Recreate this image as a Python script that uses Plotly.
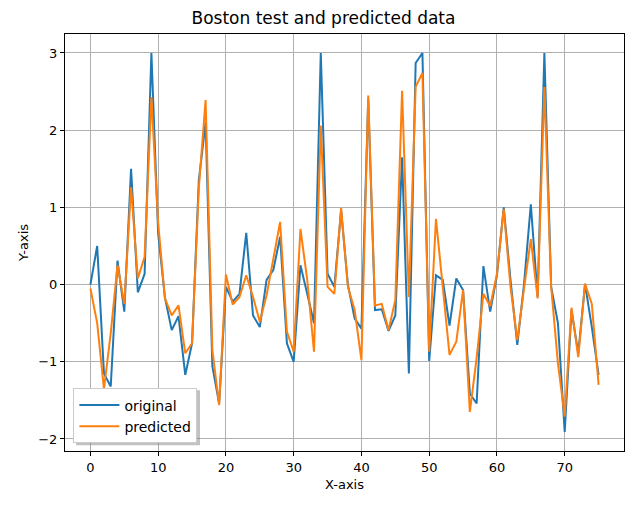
import plotly.graph_objects as go

x_idx = list(range(76))

original = [0.0, 0.5, -1.15, -1.32, 0.31, -0.35, 1.5, -0.1, 0.14, 3.0,
            0.66, -0.17, -0.59, -0.41, -1.17, -0.76, 1.35, 2.1, -1.06, -1.54,
            -0.03, -0.22, -0.12, 0.67, -0.4, -0.55, 0.06, 0.19, 0.62, -0.76,
            -1.0, 0.25, -0.12, -0.5, 3.0, 0.14, -0.03, 0.96, 0.0, -0.44,
            -0.57, 2.4, -0.33, -0.32, -0.6, -0.4, 1.65, -1.15, 2.87, 3.0,
            -0.99, 0.12, 0.06, -0.53, 0.08, -0.07, -1.41, -1.54, 0.24, -0.35,
            0.12, 1.0, 0.06, -0.78, 0.01, 1.04, -0.16, 3.0, -0.03, -0.5,
            -1.91, -0.33, -0.89, 0.01, -0.55, -1.17]

predicted = [-0.05, -0.5, -1.35, -0.63, 0.25, -0.25, 1.26, 0.08, 0.36, 2.43,
             0.8, -0.18, -0.4, -0.27, -0.89, -0.76, 1.25, 2.39, -0.85, -1.56,
             0.13, -0.26, -0.16, 0.12, -0.16, -0.48, -0.14, 0.36, 0.81, -0.61,
             -0.87, 0.72, 0.06, -0.87, 2.06, -0.03, -0.12, 0.99, -0.03, -0.33,
             -0.98, 2.45, -0.27, -0.25, -0.59, -0.2, 2.51, -0.16, 2.56, 2.74,
             -0.87, 0.85, 0.01, -0.91, -0.74, -0.07, -1.65, -0.95, -0.12, -0.28,
             0.14, 0.98, -0.03, -0.72, -0.05, 0.59, -0.18, 2.56, -0.03, -1.02,
             -1.71, -0.3, -0.94, 0.01, -0.25, -1.3]

x_ticks = [0, 10, 20, 30, 40, 50, 60, 70]
y_ticks = [-2, -1, 0, 1, 2, 3]

# matplotlib-like 5% margins
lo = min(original + predicted)
hi = max(original + predicted)
pad = (hi - lo) * 0.05
xpad = (x_idx[-1] - x_idx[0]) * 0.05

fig = go.Figure()
fig.add_trace(go.Scatter(x=x_idx, y=original, mode="lines", name="original",
                         line=dict(color="#1f77b4", width=2)))
fig.add_trace(go.Scatter(x=x_idx, y=predicted, mode="lines", name="predicted",
                         line=dict(color="#ff7f0e", width=2)))

axis_style = dict(showline=True, linecolor="black", linewidth=1, mirror=True,
                  ticks="outside", ticklen=4, tickcolor="black",
                  showgrid=True, gridcolor="#b0b0b0", gridwidth=1,
                  zeroline=False, tickfont=dict(size=13, color="black"))

fig.update_xaxes(range=[x_idx[0] - xpad, x_idx[-1] + xpad], tickvals=x_ticks,
                 title=dict(text="X-axis", font=dict(size=13), standoff=6), **axis_style)
fig.update_yaxes(range=[lo - pad, hi + pad], tickvals=y_ticks,
                 title=dict(text="Y-axis", font=dict(size=13), standoff=6), **axis_style)

# legend shadow (matplotlib shadow=True)
fig.add_shape(type="rect", xref="paper", yref="paper", layer="above",
              x0=0.0197, x1=0.2415, y0=0.0137, y1=0.1456,
              fillcolor="rgba(120,120,120,0.45)", line=dict(width=0))

# page body adds an 8px offset, so the figure is shrunk to fit the window
fig.update_layout(
    width=631, height=498,
    margin=dict(l=57, r=15, t=26, b=55),
    paper_bgcolor="white", plot_bgcolor="white",
    font=dict(family="DejaVu Sans", color="black"),
    title=dict(text="Boston test and predicted data", x=0.5, xanchor="center",
               y=0.98, yanchor="middle", font=dict(size=17)),
    legend=dict(x=0.015, y=0.018, xanchor="left", yanchor="bottom",
                bgcolor="white", bordercolor="#cccccc",
                borderwidth=1, font=dict(size=14), itemwidth=40,
                tracegroupgap=0),
    showlegend=True,
)

fig.write_html("out.html")
